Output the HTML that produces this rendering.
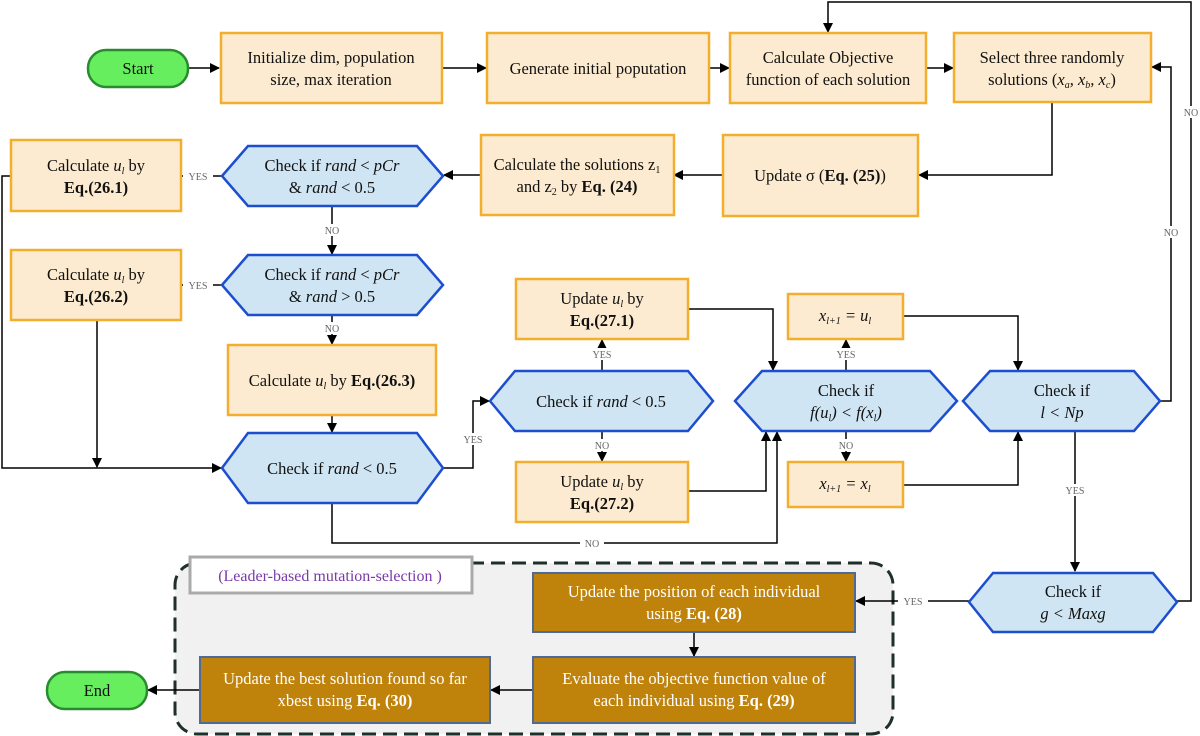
<!DOCTYPE html>
<html><head><meta charset="utf-8"><style>
html,body{margin:0;padding:0;background:#fff}
svg{display:block}
svg text{font-family:"Liberation Serif","Times New Roman","DejaVu Serif",serif;fill:#111}
.t{font-size:16.5px;text-anchor:middle}
.l{font-size:10px;fill:#666;text-anchor:middle}
.w{font-size:16.5px;text-anchor:middle;fill:#fff}
</style></head><body>
<svg width="1200" height="736" viewBox="0 0 1200 736" xmlns="http://www.w3.org/2000/svg" font-family="Liberation Serif, Times New Roman, DejaVu Serif, serif">
<defs>
<marker id="a" markerWidth="10" markerHeight="10" refX="9" refY="5" orient="auto" markerUnits="userSpaceOnUse"><path d="M0,0 L10,5 L0,10 z" fill="#000"/></marker>
</defs>
<rect x="175" y="563" width="718" height="171" rx="22" fill="#f1f1f1" stroke="#1f2f2a" stroke-width="3" stroke-dasharray="14,7"/>
<rect x="190" y="557" width="282" height="36" fill="#fff" stroke="#aaa" stroke-width="3"/>
<text x="330" y="581" style="font-size:16px;fill:#7a3aa8" text-anchor="middle">(Leader-based mutation-selection  )</text>

<g fill="none" stroke="#000" stroke-width="1.5">
<line x1="189" y1="68" x2="219" y2="68" marker-end="url(#a)"/>
<line x1="442" y1="68" x2="486" y2="68" marker-end="url(#a)"/>
<line x1="709" y1="68" x2="729" y2="68" marker-end="url(#a)"/>
<line x1="926" y1="68" x2="953" y2="68" marker-end="url(#a)"/>
<polyline points="1052,102 1052,175 919,175" marker-end="url(#a)"/>
<line x1="723" y1="175" x2="674" y2="175" marker-end="url(#a)"/>
<line x1="481" y1="175" x2="444" y2="175" marker-end="url(#a)"/>
<line x1="222" y1="176" x2="182" y2="176" marker-end="url(#a)"/>
<line x1="332" y1="206" x2="332" y2="254" marker-end="url(#a)"/>
<line x1="222" y1="285" x2="182" y2="285" marker-end="url(#a)"/>
<line x1="332" y1="315" x2="332" y2="344" marker-end="url(#a)"/>
<line x1="332" y1="415" x2="332" y2="432" marker-end="url(#a)"/>
<polyline points="11,176 2,176 2,468 221,468" marker-end="url(#a)"/>
<line x1="97" y1="320" x2="97" y2="467" marker-end="url(#a)"/>
<polyline points="443,468 473,468 473,401 489,401" marker-end="url(#a)"/>
<polyline points="332,503 332,543 777,543 777,432" marker-end="url(#a)"/>
<line x1="602" y1="371" x2="602" y2="340" marker-end="url(#a)"/>
<line x1="602" y1="431" x2="602" y2="461" marker-end="url(#a)"/>
<polyline points="688,309 773,309 773,370" marker-end="url(#a)"/>
<polyline points="688,491 766,491 766,432" marker-end="url(#a)"/>
<line x1="846" y1="371" x2="846" y2="340" marker-end="url(#a)"/>
<line x1="846" y1="431" x2="846" y2="461" marker-end="url(#a)"/>
<polyline points="903,316 1018,316 1018,370" marker-end="url(#a)"/>
<polyline points="903,485 1018,485 1018,432" marker-end="url(#a)"/>
<polyline points="1160,401 1171,401 1171,67 1152,67" marker-end="url(#a)"/>
<polyline points="1075,431 1075,571" marker-end="url(#a)"/>
<polyline points="1177,601 1191,601 1191,2 828,2 828,32" marker-end="url(#a)"/>
<line x1="969" y1="601" x2="856" y2="601" marker-end="url(#a)"/>
<line x1="694" y1="632" x2="694" y2="656" marker-end="url(#a)"/>
<line x1="533" y1="690" x2="491" y2="690" marker-end="url(#a)"/>
<line x1="200" y1="690" x2="148" y2="690" marker-end="url(#a)"/>
</g>

<g>
<rect x="183" y="170" width="30" height="12" fill="#fff"/><text class="l" x="198" y="180">YES</text>
<rect x="183" y="279" width="30" height="12" fill="#fff"/><text class="l" x="198" y="289">YES</text>
<rect x="320" y="224" width="24" height="12" fill="#fff"/><text class="l" x="332" y="234">NO</text>
<rect x="320" y="322" width="24" height="12" fill="#fff"/><text class="l" x="332" y="332">NO</text>
<rect x="458" y="433" width="30" height="12" fill="#fff"/><text class="l" x="473" y="443">YES</text>
<rect x="580" y="537" width="24" height="12" fill="#fff"/><text class="l" x="592" y="547">NO</text>
<rect x="588" y="348" width="30" height="12" fill="#fff"/><text class="l" x="602" y="358">YES</text>
<rect x="590" y="439" width="24" height="12" fill="#fff"/><text class="l" x="602" y="449">NO</text>
<rect x="831" y="348" width="30" height="12" fill="#fff"/><text class="l" x="846" y="358">YES</text>
<rect x="834" y="439" width="24" height="12" fill="#fff"/><text class="l" x="846" y="449">NO</text>
<rect x="1060" y="484" width="30" height="12" fill="#fff"/><text class="l" x="1075" y="494">YES</text>
<rect x="1159" y="226" width="24" height="12" fill="#fff"/><text class="l" x="1171" y="236">NO</text>
<rect x="1179" y="106" width="24" height="12" fill="#fff"/><text class="l" x="1191" y="116">NO</text>
<rect x="898" y="595" width="30" height="12" fill="#fff"/><text class="l" x="913" y="605">YES</text>
</g>

<rect x="88" y="50" width="100" height="37" rx="18" fill="#66ee5e" stroke="#2a8a30" stroke-width="2.5"/>
<text class="t" x="138" y="74">Start</text>
<rect x="47" y="672" width="100" height="37" rx="18" fill="#66ee5e" stroke="#2a8a30" stroke-width="2.5"/>
<text class="t" x="97" y="696">End</text>

<g fill="#fcebd0" stroke="#f4ae2e" stroke-width="2.5">
<rect x="221" y="33" width="221" height="70"/>
<rect x="487" y="33" width="222" height="70"/>
<rect x="730" y="33" width="196" height="70"/>
<rect x="954" y="33" width="197" height="69"/>
<rect x="723" y="135" width="195" height="81"/>
<rect x="481" y="135" width="193" height="80"/>
<rect x="11" y="140" width="170" height="71"/>
<rect x="11" y="250" width="170" height="70"/>
<rect x="228" y="345" width="208" height="70"/>
<rect x="516" y="279" width="172" height="60"/>
<rect x="516" y="462" width="172" height="60"/>
<rect x="788" y="294" width="115" height="45"/>
<rect x="788" y="462" width="115" height="45"/>
</g>
<text class="t" x="331" y="63">Initialize dim, population</text>
<text class="t" x="331" y="85">size, max iteration</text>
<text class="t" x="598" y="74">Generate initial poputation</text>
<text class="t" x="828" y="63">Calculate Objective</text>
<text class="t" x="828" y="85">function of each solution</text>
<text class="t" x="1052" y="63">Select three randomly</text>
<text class="t" x="1052" y="85">solutions (<tspan font-style="italic">x<tspan font-size="10" dy="3">a</tspan><tspan dy="-3">, x</tspan><tspan font-size="10" dy="3">b</tspan><tspan dy="-3">, x</tspan><tspan font-size="10" dy="3">c</tspan></tspan><tspan dy="-3">)</tspan></text>
<text class="t" x="820" y="181">Update σ (<tspan font-weight="bold">Eq. (25)</tspan>)</text>
<text class="t" x="577" y="170">Calculate the solutions z<tspan font-size="10" dy="3">1</tspan></text>
<text class="t" x="577" y="192">and z<tspan font-size="10" dy="3">2</tspan><tspan dy="-3"> by </tspan><tspan font-weight="bold">Eq. (24)</tspan></text>
<text class="t" x="96" y="171">Calculate <tspan font-style="italic">u<tspan font-size="10" dy="3">l</tspan></tspan><tspan dy="-3"> by</tspan></text>
<text class="t" x="96" y="193" font-weight="bold">Eq.(26.1)</text>
<text class="t" x="96" y="280">Calculate <tspan font-style="italic">u<tspan font-size="10" dy="3">l</tspan></tspan><tspan dy="-3"> by</tspan></text>
<text class="t" x="96" y="302" font-weight="bold">Eq.(26.2)</text>
<text class="t" x="332" y="386">Calculate <tspan font-style="italic">u<tspan font-size="10" dy="3">l</tspan></tspan><tspan dy="-3"> by </tspan><tspan font-weight="bold">Eq.(26.3)</tspan></text>
<text class="t" x="602" y="304">Update <tspan font-style="italic">u<tspan font-size="10" dy="3">l</tspan></tspan><tspan dy="-3"> by</tspan></text>
<text class="t" x="602" y="326" font-weight="bold">Eq.(27.1)</text>
<text class="t" x="602" y="487">Update <tspan font-style="italic">u<tspan font-size="10" dy="3">l</tspan></tspan><tspan dy="-3"> by</tspan></text>
<text class="t" x="602" y="509" font-weight="bold">Eq.(27.2)</text>
<text class="t" x="845" y="321" font-style="italic">x<tspan font-size="10" dy="3">l+1</tspan><tspan dy="-3"> = u</tspan><tspan font-size="10" dy="3">l</tspan></text>
<text class="t" x="845" y="489" font-style="italic">x<tspan font-size="10" dy="3">l+1</tspan><tspan dy="-3"> = x</tspan><tspan font-size="10" dy="3">l</tspan></text>

<g fill="#cfe5f3" stroke="#1d4ed0" stroke-width="2.5">
<polygon points="222,176 248,146 417,146 443,176 417,206 248,206"/>
<polygon points="222,285 248,255 417,255 443,285 417,315 248,315"/>
<polygon points="222,468 248,433 417,433 443,468 417,503 248,503"/>
<polygon points="490,401 515,371 688,371 713,401 688,431 515,431"/>
<polygon points="735,401 762,371 930,371 957,401 930,431 762,431"/>
<polygon points="963,401 990,371 1134,371 1160,401 1134,431 990,431"/>
<polygon points="969,602 993,573 1153,573 1177,602 1153,632 993,632"/>
</g>
<text class="t" x="332" y="171">Check if  <tspan font-style="italic">rand</tspan> &lt; <tspan font-style="italic">pCr</tspan></text>
<text class="t" x="332" y="193">&amp; <tspan font-style="italic">rand</tspan> &lt; 0.5</text>
<text class="t" x="332" y="280">Check if  <tspan font-style="italic">rand</tspan> &lt; <tspan font-style="italic">pCr</tspan></text>
<text class="t" x="332" y="302">&amp; <tspan font-style="italic">rand</tspan> &gt; 0.5</text>
<text class="t" x="332" y="474">Check if  <tspan font-style="italic">rand</tspan> &lt; 0.5</text>
<text class="t" x="601" y="407">Check if <tspan font-style="italic">rand</tspan> &lt; 0.5</text>
<text class="t" x="846" y="396">Check if</text>
<text class="t" x="846" y="418" font-style="italic">f(u<tspan font-size="10" dy="3">l</tspan><tspan dy="-3">) &lt; f(x</tspan><tspan font-size="10" dy="3">l</tspan><tspan dy="-3">)</tspan></text>
<text class="t" x="1062" y="396">Check if</text>
<text class="t" x="1062" y="418" font-style="italic">l &lt; Np</text>
<text class="t" x="1073" y="597">Check if</text>
<text class="t" x="1073" y="619" font-style="italic">g &lt; Maxg</text>

<g fill="#bf830c" stroke="#4f6a94" stroke-width="2">
<rect x="533" y="573" width="322" height="59"/>
<rect x="533" y="657" width="322" height="66"/>
<rect x="200" y="657" width="290" height="66"/>
</g>
<text class="w" x="694" y="597">Update the position of each individual</text>
<text class="w" x="694" y="619">using <tspan font-weight="bold" fill="#fff">Eq. (28)</tspan></text>
<text class="w" x="694" y="684">Evaluate the objective function value of</text>
<text class="w" x="694" y="706">each individual using <tspan font-weight="bold" fill="#fff">Eq. (29)</tspan></text>
<text class="w" x="345" y="684">Update the best solution found so far</text>
<text class="w" x="345" y="706">xbest using <tspan font-weight="bold" fill="#fff">Eq. (30)</tspan></text>
</svg>
</body></html>
